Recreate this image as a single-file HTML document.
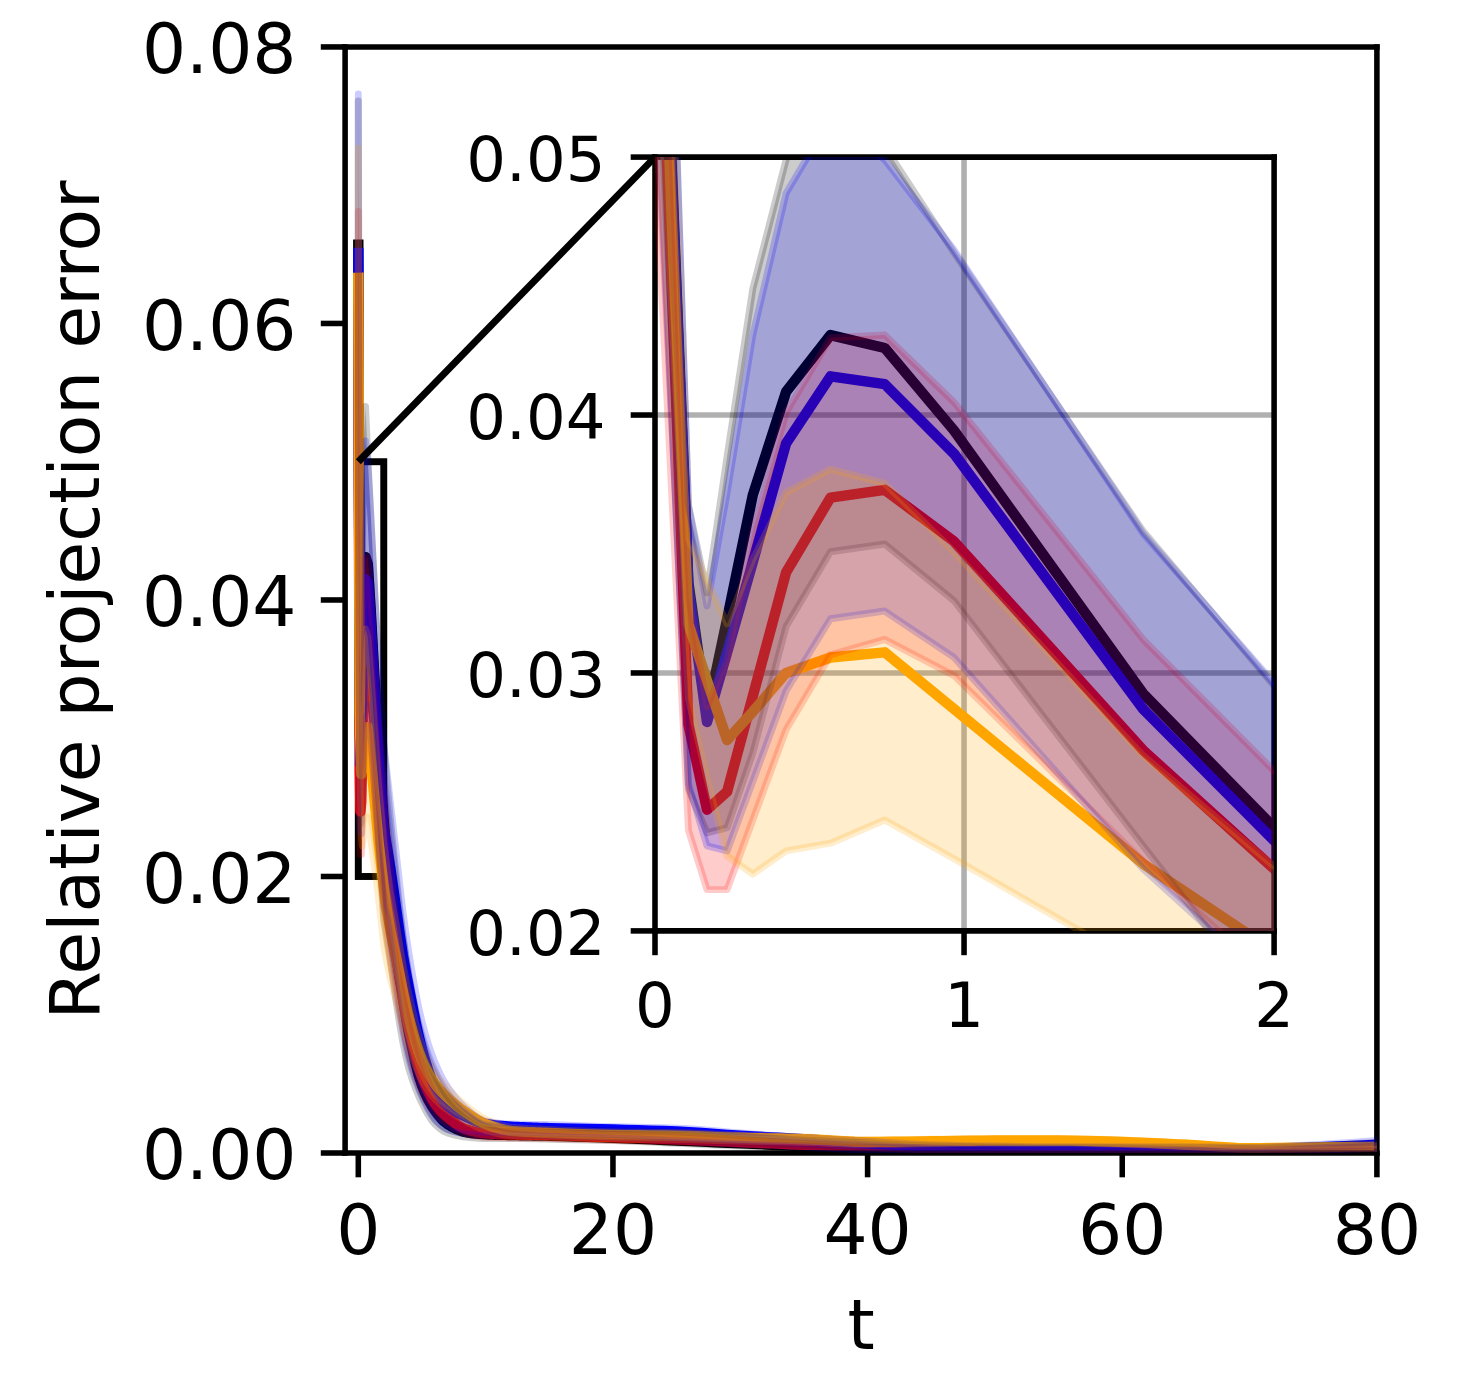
<!DOCTYPE html>
<html><head><meta charset="utf-8"><title>Relative projection error</title>
<style>html,body{margin:0;padding:0;background:#fff;}svg{display:block;}</style>
</head><body>
<svg width="1480" height="1380" viewBox="0 0 1480 1380">
<defs><clipPath id="cm"><rect x="345.10" y="46.95" width="1031.80" height="1106.05"/></clipPath>
<clipPath id="ci"><rect x="655.00" y="157.10" width="619.10" height="773.80"/></clipPath></defs>
<rect x="0" y="0" width="1480" height="1380" fill="#ffffff"/>
<rect x="358.30" y="461.72" width="25.46" height="414.77" fill="none" stroke="#000" stroke-width="6.94" stroke-linejoin="miter"/>
<polyline clip-path="url(#cm)" points="358.30,244.66 359.68,689.84 360.44,760.35 361.27,709.20 362.32,642.83 363.69,587.53 365.52,557.12 367.75,564.03 370.60,608.27 378.38,749.29 383.76,821.18 386.95,862.00 390.13,897.23 393.31,926.63 396.50,952.53 399.68,976.56 402.86,998.15 406.05,1017.35 409.23,1034.10 412.41,1049.09 415.60,1063.11 418.78,1075.41 421.96,1085.25 425.15,1093.02 428.33,1099.66 431.51,1105.32 434.70,1110.14 437.88,1114.42 441.06,1118.26 444.24,1121.50 447.43,1123.97 450.61,1125.92 453.79,1127.68 456.98,1129.22 460.16,1130.52 463.34,1131.55 466.53,1132.26 469.71,1132.78 472.89,1133.23 476.08,1133.61 479.26,1133.92 482.44,1134.16 485.62,1134.34 488.81,1134.47 491.99,1134.58 495.17,1134.67 498.36,1134.75 501.54,1134.83 504.72,1134.89 507.91,1134.96 511.09,1135.03 514.27,1135.09 517.46,1135.16 520.64,1135.21 523.82,1135.27 527.01,1135.32 530.19,1135.37 533.37,1135.42 536.56,1135.47 539.74,1135.53 542.92,1135.59 546.10,1135.65 549.29,1135.72 562.02,1136.04 574.75,1136.43 587.49,1136.86 600.22,1137.32 612.95,1137.79 625.68,1138.29 638.41,1138.84 651.15,1139.41 663.88,1139.99 676.61,1140.56 689.35,1141.11 702.08,1141.66 714.81,1142.22 727.54,1142.77 740.28,1143.32 753.01,1143.88 765.74,1144.43 778.47,1144.98 791.21,1145.53 803.94,1146.09 816.67,1146.69 829.40,1147.35 842.13,1147.99 854.87,1148.51 867.60,1148.85 880.33,1149.04 893.07,1149.19 905.80,1149.31 918.53,1149.42 931.26,1149.54 944.00,1149.70 956.73,1149.89 969.46,1150.06 982.19,1150.19 994.93,1150.23 1007.66,1150.23 1020.39,1150.23 1033.12,1150.23 1045.86,1150.23 1058.59,1150.23 1071.32,1150.23 1084.05,1150.23 1096.79,1150.23 1109.52,1150.23 1122.25,1150.23 1134.98,1150.23 1147.72,1150.23 1160.45,1150.23 1173.18,1150.23 1185.91,1150.23 1198.65,1150.23 1211.38,1150.23 1224.11,1150.23 1236.84,1150.23 1249.58,1150.23 1262.31,1150.14 1275.04,1149.88 1287.77,1149.54 1300.51,1149.17 1313.24,1148.85 1325.97,1148.58 1338.70,1148.30 1351.44,1148.02 1364.17,1147.75 1376.90,1147.47" fill="none" stroke="#000000" stroke-width="10.42" stroke-linejoin="round" stroke-linecap="square"/>
<polyline clip-path="url(#cm)" points="358.30,295.81 359.68,765.88 360.44,811.51 361.27,801.83 362.32,750.67 363.69,684.31 365.52,644.22 367.75,640.07 370.60,667.72 378.38,779.71 383.76,843.31 386.95,876.94 390.13,906.90 393.31,933.22 396.50,956.68 399.68,977.74 402.86,996.77 406.05,1014.39 409.23,1029.95 412.41,1043.61 415.60,1056.25 418.78,1067.50 421.96,1076.96 425.15,1084.95 428.33,1092.04 431.51,1098.16 434.70,1103.23 437.88,1107.44 441.06,1111.09 444.24,1114.26 447.43,1117.05 450.61,1119.67 453.79,1122.19 456.98,1124.51 460.16,1126.57 463.34,1128.26 466.53,1129.50 469.71,1130.44 472.89,1131.28 476.08,1132.01 479.26,1132.61 482.44,1133.07 485.62,1133.37 488.81,1133.56 491.99,1133.73 495.17,1133.86 498.36,1133.98 501.54,1134.08 504.72,1134.17 507.91,1134.26 511.09,1134.34 514.27,1134.41 517.46,1134.48 520.64,1134.54 523.82,1134.59 527.01,1134.64 530.19,1134.69 533.37,1134.74 536.56,1134.79 539.74,1134.84 542.92,1134.90 546.10,1134.96 549.29,1135.03 562.02,1135.36 574.75,1135.77 587.49,1136.21 600.22,1136.67 612.95,1137.10 625.68,1137.51 638.41,1137.90 651.15,1138.30 663.88,1138.72 676.61,1139.17 689.35,1139.68 702.08,1140.22 714.81,1140.80 727.54,1141.37 740.28,1141.94 753.01,1142.51 765.74,1143.08 778.47,1143.66 791.21,1144.20 803.94,1144.70 816.67,1145.16 829.40,1145.58 842.13,1145.98 854.87,1146.37 867.60,1146.78 880.33,1147.23 893.07,1147.71 905.80,1148.17 918.53,1148.57 931.26,1148.85 944.00,1149.03 956.73,1149.18 969.46,1149.30 982.19,1149.42 994.93,1149.54 1007.66,1149.70 1020.39,1149.89 1033.12,1150.06 1045.86,1150.19 1058.59,1150.23 1071.32,1150.23 1084.05,1150.23 1096.79,1150.23 1109.52,1150.23 1122.25,1150.23 1134.98,1150.23 1147.72,1150.23 1160.45,1150.23 1173.18,1150.23 1185.91,1150.23 1198.65,1150.23 1211.38,1150.23 1224.11,1150.23 1236.84,1150.23 1249.58,1150.23 1262.31,1150.14 1275.04,1149.88 1287.77,1149.54 1300.51,1149.17 1313.24,1148.85 1325.97,1148.58 1338.70,1148.30 1351.44,1148.02 1364.17,1147.75 1376.90,1147.47" fill="none" stroke="#ff0000" stroke-width="10.42" stroke-linejoin="round" stroke-linecap="square"/>
<polyline clip-path="url(#cm)" points="358.30,252.95 359.68,692.61 360.44,764.50 361.27,727.17 362.32,678.78 363.69,615.18 365.52,579.24 367.75,583.38 370.60,620.71 378.38,757.59 383.76,828.10 386.95,846.79 390.13,866.81 393.31,888.56 396.50,911.05 399.68,933.85 402.86,955.29 406.05,973.40 409.23,989.86 412.41,1006.06 415.60,1021.91 418.78,1036.59 421.96,1049.31 425.15,1060.39 428.33,1070.52 431.51,1079.37 434.70,1086.64 437.88,1092.73 441.06,1098.13 444.24,1102.62 447.43,1105.99 450.61,1108.53 453.79,1110.68 456.98,1112.52 460.16,1114.15 463.34,1115.63 466.53,1117.05 469.71,1118.47 472.89,1119.86 476.08,1121.16 479.26,1122.32 482.44,1123.27 485.62,1123.97 488.81,1124.48 491.99,1124.95 495.17,1125.35 498.36,1125.72 501.54,1126.03 504.72,1126.30 507.91,1126.54 511.09,1126.73 514.27,1126.90 517.46,1127.06 520.64,1127.20 523.82,1127.33 527.01,1127.45 530.19,1127.56 533.37,1127.66 536.56,1127.76 539.74,1127.85 542.92,1127.94 546.10,1128.03 549.29,1128.11 562.02,1128.43 574.75,1128.70 587.49,1128.94 600.22,1129.20 612.95,1129.50 625.68,1129.84 638.41,1130.20 651.15,1130.60 663.88,1131.05 676.61,1131.57 689.35,1132.23 702.08,1133.07 714.81,1133.98 727.54,1134.89 740.28,1135.72 753.01,1136.44 765.74,1137.12 778.47,1137.78 791.21,1138.45 803.94,1139.17 816.67,1139.98 829.40,1140.86 842.13,1141.75 854.87,1142.59 867.60,1143.32 880.33,1143.98 893.07,1144.60 905.80,1145.17 918.53,1145.67 931.26,1146.09 944.00,1146.47 956.73,1146.84 969.46,1147.16 982.19,1147.38 994.93,1147.47 1007.66,1147.47 1020.39,1147.47 1033.12,1147.47 1045.86,1147.47 1058.59,1147.47 1071.32,1147.47 1084.05,1147.47 1096.79,1147.47 1109.52,1147.47 1122.25,1147.47 1134.98,1147.52 1147.72,1147.65 1160.45,1147.82 1173.18,1148.00 1185.91,1148.16 1198.65,1148.32 1211.38,1148.50 1224.11,1148.68 1236.84,1148.80 1249.58,1148.85 1262.31,1148.77 1275.04,1148.54 1287.77,1148.22 1300.51,1147.85 1313.24,1147.47 1325.97,1147.06 1338.70,1146.56 1351.44,1146.00 1364.17,1145.38 1376.90,1144.70" fill="none" stroke="#0000ff" stroke-width="10.42" stroke-linejoin="round" stroke-linecap="square"/>
<polyline clip-path="url(#cm)" points="358.30,277.84 359.68,711.96 360.44,742.38 361.27,774.18 362.32,758.97 363.69,738.23 365.52,729.94 367.75,727.17 370.60,757.59 378.38,840.54 383.76,887.55 386.95,909.78 390.13,929.02 393.31,944.73 396.50,959.44 399.68,975.53 402.86,991.24 406.05,1005.75 409.23,1018.89 412.41,1030.74 415.60,1041.90 418.78,1051.93 421.96,1060.37 425.15,1067.44 428.33,1073.69 431.51,1079.16 434.70,1083.87 437.88,1087.93 441.06,1091.48 444.24,1094.69 447.43,1097.70 450.61,1100.58 453.79,1103.32 456.98,1105.92 460.16,1108.38 463.34,1110.71 466.53,1112.91 469.71,1115.04 472.89,1117.14 476.08,1119.14 479.26,1120.98 482.44,1122.61 485.62,1123.97 488.81,1125.15 491.99,1126.28 495.17,1127.34 498.36,1128.32 501.54,1129.18 504.72,1129.91 507.91,1130.48 511.09,1130.88 514.27,1131.16 517.46,1131.41 520.64,1131.64 523.82,1131.83 527.01,1132.01 530.19,1132.17 533.37,1132.31 536.56,1132.45 539.74,1132.57 542.92,1132.70 546.10,1132.82 549.29,1132.95 562.02,1133.47 574.75,1133.96 587.49,1134.40 600.22,1134.76 612.95,1135.03 625.68,1135.20 638.41,1135.32 651.15,1135.42 663.88,1135.55 676.61,1135.72 689.35,1136.01 702.08,1136.44 714.81,1136.92 727.54,1137.40 740.28,1137.79 753.01,1138.09 765.74,1138.34 778.47,1138.58 791.21,1138.85 803.94,1139.17 816.67,1139.70 829.40,1140.41 842.13,1141.14 854.87,1141.71 867.60,1141.94 880.33,1141.89 893.07,1141.76 905.80,1141.59 918.53,1141.41 931.26,1141.25 944.00,1141.09 956.73,1140.91 969.46,1140.73 982.19,1140.61 994.93,1140.56 1007.66,1140.56 1020.39,1140.56 1033.12,1140.56 1045.86,1140.56 1058.59,1140.56 1071.32,1140.64 1084.05,1140.87 1096.79,1141.19 1109.52,1141.56 1122.25,1141.94 1134.98,1142.36 1147.72,1142.88 1160.45,1143.47 1173.18,1144.08 1185.91,1144.70 1198.65,1145.46 1211.38,1146.36 1224.11,1147.24 1236.84,1147.90 1249.58,1148.16 1262.31,1148.11 1275.04,1147.98 1287.77,1147.81 1300.51,1147.63 1313.24,1147.47 1325.97,1147.33 1338.70,1147.19 1351.44,1147.05 1364.17,1146.92 1376.90,1146.78" fill="none" stroke="#ffa500" stroke-width="10.42" stroke-linejoin="round" stroke-linecap="square"/>
<line x1="345.10" y1="46.95" x2="345.10" y2="1153.00" stroke="#000" stroke-width="5.56" stroke-linecap="square"/>
<line x1="1376.90" y1="46.95" x2="1376.90" y2="1153.00" stroke="#000" stroke-width="5.56" stroke-linecap="square"/>
<line x1="345.10" y1="46.95" x2="1376.90" y2="46.95" stroke="#000" stroke-width="5.56" stroke-linecap="square"/>
<line x1="345.10" y1="1153.00" x2="1376.90" y2="1153.00" stroke="#000" stroke-width="5.56" stroke-linecap="square"/>
<polygon clip-path="url(#cm)" points="358.30,100.87 359.68,648.36 360.44,695.37 361.27,622.10 362.32,532.23 363.69,463.10 365.52,406.42 367.75,456.19 370.60,512.87 378.38,662.19 383.76,745.14 386.95,782.30 390.13,816.58 393.31,848.39 396.50,878.38 399.68,907.80 402.86,934.73 406.05,957.73 409.23,977.73 412.41,995.53 415.60,1011.94 418.78,1026.59 421.96,1039.08 425.15,1049.73 428.33,1059.18 431.51,1067.50 434.70,1074.75 437.88,1081.17 441.06,1086.92 444.24,1092.01 447.43,1096.43 450.61,1100.35 453.79,1103.97 456.98,1107.28 460.16,1110.30 463.34,1113.02 466.53,1115.43 469.71,1117.72 472.89,1119.97 476.08,1122.05 479.26,1123.83 482.44,1125.20 485.62,1126.04 488.81,1126.53 491.99,1126.96 495.17,1127.34 498.36,1127.65 501.54,1127.92 504.72,1128.13 507.91,1128.29 511.09,1128.40 514.27,1128.48 517.46,1128.55 520.64,1128.61 523.82,1128.66 527.01,1128.70 530.19,1128.74 533.37,1128.77 536.56,1128.81 539.74,1128.84 542.92,1128.89 546.10,1128.93 549.29,1128.99 562.02,1129.28 574.75,1129.65 587.49,1130.04 600.22,1130.42 612.95,1130.75 625.68,1130.99 638.41,1131.19 651.15,1131.38 663.88,1131.61 676.61,1131.92 689.35,1132.45 702.08,1133.23 714.81,1134.16 727.54,1135.12 740.28,1136.02 753.01,1136.86 765.74,1137.72 778.47,1138.58 791.21,1139.38 803.94,1140.12 816.67,1140.76 829.40,1141.36 842.13,1141.92 854.87,1142.47 867.60,1143.04 880.33,1143.67 893.07,1144.34 905.80,1144.98 918.53,1145.55 931.26,1145.97 944.00,1146.28 956.73,1146.55 969.46,1146.78 982.19,1146.98 994.93,1147.14 1007.66,1147.30 1020.39,1147.46 1033.12,1147.60 1045.86,1147.69 1058.59,1147.73 1071.32,1147.73 1084.05,1147.73 1096.79,1147.73 1109.52,1147.73 1122.25,1147.73 1134.98,1147.73 1147.72,1147.73 1160.45,1147.73 1173.18,1147.73 1185.91,1147.73 1198.65,1147.79 1211.38,1147.94 1224.11,1148.11 1236.84,1148.25 1249.58,1148.32 1262.31,1148.16 1275.04,1147.76 1287.77,1147.20 1300.51,1146.58 1313.24,1145.97 1325.97,1145.38 1338.70,1144.72 1351.44,1144.02 1364.17,1143.26 1376.90,1142.46 1376.90,1150.23 1364.17,1150.51 1351.44,1150.79 1338.70,1151.06 1325.97,1151.34 1313.24,1151.62 1300.51,1151.94 1287.77,1152.30 1275.04,1152.65 1262.31,1152.90 1249.58,1153.00 1236.84,1153.00 1224.11,1153.00 1211.38,1153.00 1198.65,1153.00 1185.91,1153.00 1173.18,1153.00 1160.45,1153.00 1147.72,1153.00 1134.98,1153.00 1122.25,1153.00 1109.52,1153.00 1096.79,1153.00 1084.05,1153.00 1071.32,1153.00 1058.59,1153.00 1045.86,1153.00 1033.12,1153.00 1020.39,1153.00 1007.66,1153.00 994.93,1153.00 982.19,1153.00 969.46,1153.00 956.73,1153.00 944.00,1153.00 931.26,1153.00 918.53,1152.92 905.80,1152.69 893.07,1152.37 880.33,1152.00 867.60,1151.62 854.87,1151.18 842.13,1150.64 829.40,1150.05 816.67,1149.43 803.94,1148.85 791.21,1148.30 778.47,1147.75 765.74,1147.19 753.01,1146.64 740.28,1146.09 727.54,1145.53 714.81,1144.98 702.08,1144.43 689.35,1143.88 676.61,1143.32 663.88,1142.74 651.15,1142.13 638.41,1141.53 625.68,1140.99 612.95,1140.56 600.22,1140.22 587.49,1139.92 574.75,1139.66 562.02,1139.42 549.29,1139.17 546.10,1139.11 542.92,1139.04 539.74,1138.96 536.56,1138.88 533.37,1138.81 530.19,1138.74 527.01,1138.67 523.82,1138.61 520.64,1138.56 517.46,1138.52 514.27,1138.49 511.09,1138.48 507.91,1138.48 504.72,1138.48 501.54,1138.48 498.36,1138.48 495.17,1138.48 491.99,1138.48 488.81,1138.48 485.62,1138.48 482.44,1138.43 479.26,1138.28 476.08,1138.05 472.89,1137.77 469.71,1137.44 466.53,1137.10 463.34,1136.71 460.16,1136.21 456.98,1135.59 453.79,1134.85 450.61,1133.97 447.43,1132.95 444.24,1131.52 441.06,1129.48 437.88,1126.93 434.70,1123.97 431.51,1120.16 428.33,1115.22 425.15,1109.47 421.96,1103.23 418.78,1096.45 415.60,1088.78 412.41,1080.03 409.23,1070.05 406.05,1057.59 402.86,1042.39 399.68,1024.17 396.50,1003.68 393.31,981.56 390.13,959.44 386.95,939.42 383.76,920.73 378.38,830.86 370.60,699.52 367.75,669.10 365.52,673.25 363.69,713.35 362.32,781.09 361.27,821.18 360.44,823.95 359.68,800.45 358.30,392.59" fill="#000000" fill-opacity="0.2" stroke="#000000" stroke-opacity="0.2" stroke-width="6.94" stroke-linejoin="round"/>
<polygon clip-path="url(#cm)" points="358.30,211.47 359.68,696.75 360.44,756.20 361.27,731.32 362.32,662.19 363.69,598.59 365.52,558.50 367.75,557.12 370.60,593.06 378.38,720.26 383.76,790.77 386.95,830.11 390.13,865.16 393.31,895.93 396.50,923.37 399.68,948.00 402.86,970.27 406.05,990.88 409.23,1009.08 412.41,1025.05 415.60,1039.84 418.78,1053.00 421.96,1064.06 425.15,1073.41 428.33,1081.70 431.51,1088.85 434.70,1094.78 437.88,1099.71 441.06,1103.98 444.24,1107.69 447.43,1110.96 450.61,1114.01 453.79,1116.96 456.98,1119.68 460.16,1122.08 463.34,1124.06 466.53,1125.51 469.71,1126.61 472.89,1127.60 476.08,1128.45 479.26,1129.16 482.44,1129.69 485.62,1130.04 488.81,1130.26 491.99,1130.46 495.17,1130.62 498.36,1130.76 501.54,1130.87 504.72,1130.98 507.91,1131.08 511.09,1131.17 514.27,1131.26 517.46,1131.34 520.64,1131.41 523.82,1131.47 527.01,1131.53 530.19,1131.59 533.37,1131.64 536.56,1131.70 539.74,1131.76 542.92,1131.83 546.10,1131.90 549.29,1131.98 562.02,1132.37 574.75,1132.84 587.49,1133.36 600.22,1133.89 612.95,1134.40 625.68,1134.88 638.41,1135.34 651.15,1135.81 663.88,1136.30 676.61,1136.83 689.35,1137.42 702.08,1138.06 714.81,1138.73 727.54,1139.40 740.28,1140.06 753.01,1140.72 765.74,1141.40 778.47,1142.07 791.21,1142.71 803.94,1143.30 816.67,1143.83 829.40,1144.32 842.13,1144.79 854.87,1145.25 867.60,1145.72 880.33,1146.25 893.07,1146.81 905.80,1147.35 918.53,1147.82 931.26,1148.15 944.00,1148.36 956.73,1148.53 969.46,1148.67 982.19,1148.81 994.93,1148.96 1007.66,1149.14 1020.39,1149.36 1033.12,1149.56 1045.86,1149.71 1058.59,1149.77 1071.32,1149.77 1084.05,1149.77 1096.79,1149.77 1109.52,1149.77 1122.25,1149.77 1134.98,1149.77 1147.72,1149.77 1160.45,1149.77 1173.18,1149.77 1185.91,1149.77 1198.65,1149.77 1211.38,1149.77 1224.11,1149.77 1236.84,1149.77 1249.58,1149.77 1262.31,1149.65 1275.04,1149.35 1287.77,1148.95 1300.51,1148.52 1313.24,1148.15 1325.97,1147.83 1338.70,1147.50 1351.44,1147.18 1364.17,1146.86 1376.90,1146.53 1376.90,1148.56 1364.17,1148.78 1351.44,1149.00 1338.70,1149.22 1325.97,1149.44 1313.24,1149.67 1300.51,1149.92 1287.77,1150.22 1275.04,1150.49 1262.31,1150.70 1249.58,1150.78 1236.84,1150.78 1224.11,1150.78 1211.38,1150.78 1198.65,1150.78 1185.91,1150.78 1173.18,1150.78 1160.45,1150.78 1147.72,1150.78 1134.98,1150.78 1122.25,1150.78 1109.52,1150.78 1096.79,1150.78 1084.05,1150.78 1071.32,1150.78 1058.59,1150.78 1045.86,1150.74 1033.12,1150.64 1020.39,1150.50 1007.66,1150.35 994.93,1150.22 982.19,1150.12 969.46,1150.03 956.73,1149.93 944.00,1149.81 931.26,1149.67 918.53,1149.44 905.80,1149.12 893.07,1148.75 880.33,1148.36 867.60,1148.00 854.87,1147.67 842.13,1147.36 829.40,1147.03 816.67,1146.70 803.94,1146.33 791.21,1145.93 778.47,1145.49 765.74,1145.03 753.01,1144.57 740.28,1144.11 727.54,1143.66 714.81,1143.19 702.08,1142.73 689.35,1142.29 676.61,1141.89 663.88,1141.53 651.15,1141.19 638.41,1140.87 625.68,1140.55 612.95,1140.22 600.22,1139.87 587.49,1139.51 574.75,1139.15 562.02,1138.83 549.29,1138.56 546.10,1138.50 542.92,1138.45 539.74,1138.41 536.56,1138.37 533.37,1138.33 530.19,1138.29 527.01,1138.25 523.82,1138.21 520.64,1138.16 517.46,1138.12 514.27,1138.06 511.09,1138.00 507.91,1137.94 504.72,1137.87 501.54,1137.80 498.36,1137.72 495.17,1137.62 491.99,1137.51 488.81,1137.38 485.62,1137.22 482.44,1136.99 479.26,1136.62 476.08,1136.13 472.89,1135.55 469.71,1134.87 466.53,1134.11 463.34,1133.12 460.16,1131.76 456.98,1130.11 453.79,1128.24 450.61,1126.22 447.43,1124.11 444.24,1121.87 441.06,1119.32 437.88,1116.39 434.70,1113.00 431.51,1108.93 428.33,1104.02 425.15,1098.32 421.96,1091.90 418.78,1084.30 415.60,1075.26 412.41,1065.09 409.23,1054.12 406.05,1041.62 402.86,1027.46 399.68,1012.16 396.50,995.24 393.31,976.39 390.13,955.24 386.95,931.16 383.76,904.14 378.38,839.16 370.60,739.61 367.75,720.26 365.52,728.55 363.69,768.65 362.32,817.04 361.27,854.37 360.44,854.37 359.68,822.57 358.30,461.72" fill="#ff0000" fill-opacity="0.2" stroke="#ff0000" stroke-opacity="0.2" stroke-width="6.94" stroke-linejoin="round"/>
<polygon clip-path="url(#cm)" points="358.30,93.96 359.68,648.36 360.44,702.28 361.27,641.45 362.32,557.12 363.69,481.07 365.52,440.98 367.75,463.10 370.60,511.49 378.38,663.57 383.76,743.76 386.95,772.28 390.13,800.45 393.31,828.18 396.50,855.75 399.68,884.17 402.86,911.05 406.05,934.50 409.23,955.29 412.41,974.16 415.60,991.86 418.78,1007.87 421.96,1021.66 425.15,1033.51 428.33,1044.11 431.51,1053.51 434.70,1061.75 437.88,1069.07 441.06,1075.68 444.24,1081.54 447.43,1086.64 450.61,1091.18 453.79,1095.38 456.98,1099.24 460.16,1102.76 463.34,1105.93 466.53,1108.76 469.71,1111.44 472.89,1114.07 476.08,1116.51 479.26,1118.61 482.44,1120.22 485.62,1121.20 488.81,1121.78 491.99,1122.28 495.17,1122.72 498.36,1123.09 501.54,1123.40 504.72,1123.65 507.91,1123.84 511.09,1123.97 514.27,1124.06 517.46,1124.14 520.64,1124.21 523.82,1124.27 527.01,1124.31 530.19,1124.36 533.37,1124.40 536.56,1124.44 539.74,1124.49 542.92,1124.53 546.10,1124.59 549.29,1124.66 562.02,1125.01 574.75,1125.44 587.49,1125.90 600.22,1126.35 612.95,1126.73 625.68,1127.02 638.41,1127.25 651.15,1127.48 663.88,1127.75 676.61,1128.11 689.35,1128.74 702.08,1129.66 714.81,1130.76 727.54,1131.90 740.28,1132.95 753.01,1133.95 765.74,1134.97 778.47,1135.97 791.21,1136.93 803.94,1137.79 816.67,1138.56 829.40,1139.26 842.13,1139.92 854.87,1140.58 867.60,1141.25 880.33,1141.99 893.07,1142.77 905.80,1143.54 918.53,1144.20 931.26,1144.70 944.00,1145.07 956.73,1145.39 969.46,1145.66 982.19,1145.89 994.93,1146.09 1007.66,1146.28 1020.39,1146.46 1033.12,1146.62 1045.86,1146.74 1058.59,1146.78 1071.32,1146.78 1084.05,1146.78 1096.79,1146.78 1109.52,1146.78 1122.25,1146.78 1134.98,1146.78 1147.72,1146.78 1160.45,1146.78 1173.18,1146.78 1185.91,1146.78 1198.65,1146.85 1211.38,1147.02 1224.11,1147.23 1236.84,1147.40 1249.58,1147.47 1262.31,1147.29 1275.04,1146.81 1287.77,1146.16 1300.51,1145.42 1313.24,1144.70 1325.97,1144.00 1338.70,1143.23 1351.44,1142.40 1364.17,1141.50 1376.90,1140.56 1376.90,1148.58 1364.17,1148.88 1351.44,1149.18 1338.70,1149.49 1325.97,1149.79 1313.24,1150.10 1300.51,1150.45 1287.77,1150.85 1275.04,1151.23 1262.31,1151.51 1249.58,1151.62 1236.84,1151.62 1224.11,1151.62 1211.38,1151.62 1198.65,1151.62 1185.91,1151.62 1173.18,1151.62 1160.45,1151.62 1147.72,1151.62 1134.98,1151.62 1122.25,1151.62 1109.52,1151.62 1096.79,1151.62 1084.05,1151.62 1071.32,1151.62 1058.59,1151.62 1045.86,1151.62 1033.12,1151.62 1020.39,1151.62 1007.66,1151.62 994.93,1151.62 982.19,1151.62 969.46,1151.62 956.73,1151.62 944.00,1151.62 931.26,1151.62 918.53,1151.52 905.80,1151.28 893.07,1150.92 880.33,1150.51 867.60,1150.10 854.87,1149.62 842.13,1149.03 829.40,1148.37 816.67,1147.70 803.94,1147.05 791.21,1146.45 778.47,1145.84 765.74,1145.23 753.01,1144.62 740.28,1144.01 727.54,1143.41 714.81,1142.80 702.08,1142.19 689.35,1141.58 676.61,1140.97 663.88,1140.33 651.15,1139.66 638.41,1139.00 625.68,1138.41 612.95,1137.93 600.22,1137.56 587.49,1137.23 574.75,1136.95 562.02,1136.68 549.29,1136.41 546.10,1136.34 542.92,1136.26 539.74,1136.17 536.56,1136.09 533.37,1136.01 530.19,1135.93 527.01,1135.85 523.82,1135.79 520.64,1135.73 517.46,1135.69 514.27,1135.66 511.09,1135.65 507.91,1135.65 504.72,1135.65 501.54,1135.65 498.36,1135.65 495.17,1135.65 491.99,1135.65 488.81,1135.65 485.62,1135.65 482.44,1135.59 479.26,1135.42 476.08,1135.17 472.89,1134.86 469.71,1134.51 466.53,1134.13 463.34,1133.70 460.16,1133.15 456.98,1132.47 453.79,1131.66 450.61,1130.70 447.43,1129.57 444.24,1128.00 441.06,1125.76 437.88,1122.96 434.70,1119.71 431.51,1115.52 428.33,1110.10 425.15,1103.79 421.96,1096.94 418.78,1089.50 415.60,1081.09 412.41,1071.50 409.23,1060.56 406.05,1046.90 402.86,1030.26 399.68,1010.30 396.50,987.88 393.31,963.69 390.13,939.54 386.95,917.75 383.76,906.90 378.38,843.31 370.60,729.94 367.75,705.05 365.52,709.20 363.69,747.91 362.32,796.30 361.27,833.63 360.44,830.86 359.68,797.68 358.30,406.42" fill="#0000ff" fill-opacity="0.2" stroke="#0000ff" stroke-opacity="0.2" stroke-width="6.94" stroke-linejoin="round"/>
<polygon clip-path="url(#cm)" points="358.30,147.88 359.68,666.34 360.44,688.46 361.27,711.96 362.32,677.40 363.69,641.45 365.52,629.01 367.75,636.61 370.60,673.25 378.38,782.47 383.76,841.92 386.95,867.97 390.13,890.53 393.31,908.94 396.50,926.17 399.68,945.03 402.86,963.44 406.05,980.44 409.23,995.84 412.41,1009.73 415.60,1022.80 418.78,1034.55 421.96,1044.45 425.15,1052.74 428.33,1060.06 431.51,1066.47 434.70,1071.99 437.88,1076.74 441.06,1080.91 444.24,1084.67 447.43,1088.19 450.61,1091.57 453.79,1094.78 456.98,1097.82 460.16,1100.71 463.34,1103.44 466.53,1106.01 469.71,1108.52 472.89,1110.97 476.08,1113.32 479.26,1115.48 482.44,1117.39 485.62,1118.98 488.81,1120.36 491.99,1121.69 495.17,1122.94 498.36,1124.08 501.54,1125.09 504.72,1125.94 507.91,1126.61 511.09,1127.08 514.27,1127.41 517.46,1127.70 520.64,1127.97 523.82,1128.20 527.01,1128.40 530.19,1128.59 533.37,1128.76 536.56,1128.92 539.74,1129.06 542.92,1129.21 546.10,1129.36 549.29,1129.51 562.02,1130.12 574.75,1130.69 587.49,1131.20 600.22,1131.63 612.95,1131.94 625.68,1132.14 638.41,1132.28 651.15,1132.40 663.88,1132.55 676.61,1132.75 689.35,1133.09 702.08,1133.59 714.81,1134.16 727.54,1134.72 740.28,1135.18 753.01,1135.53 765.74,1135.82 778.47,1136.10 791.21,1136.42 803.94,1136.80 816.67,1137.41 829.40,1138.25 842.13,1139.11 854.87,1139.77 867.60,1140.04 880.33,1139.98 893.07,1139.83 905.80,1139.63 918.53,1139.42 931.26,1139.23 944.00,1139.04 956.73,1138.83 969.46,1138.63 982.19,1138.48 994.93,1138.42 1007.66,1138.42 1020.39,1138.42 1033.12,1138.42 1045.86,1138.42 1058.59,1138.42 1071.32,1138.52 1084.05,1138.78 1096.79,1139.16 1109.52,1139.59 1122.25,1140.04 1134.98,1140.54 1147.72,1141.14 1160.45,1141.83 1173.18,1142.55 1185.91,1143.28 1198.65,1144.16 1211.38,1145.22 1224.11,1146.25 1236.84,1147.02 1249.58,1147.33 1262.31,1147.27 1275.04,1147.12 1287.77,1146.92 1300.51,1146.71 1313.24,1146.52 1325.97,1146.36 1338.70,1146.20 1351.44,1146.03 1364.17,1145.87 1376.90,1145.71 1376.90,1148.14 1364.17,1148.25 1351.44,1148.36 1338.70,1148.46 1325.97,1148.57 1313.24,1148.68 1300.51,1148.80 1287.77,1148.95 1275.04,1149.08 1262.31,1149.18 1249.58,1149.22 1236.84,1149.02 1224.11,1148.50 1211.38,1147.82 1198.65,1147.11 1185.91,1146.52 1173.18,1146.03 1160.45,1145.55 1147.72,1145.10 1134.98,1144.69 1122.25,1144.36 1109.52,1144.06 1096.79,1143.77 1084.05,1143.52 1071.32,1143.35 1058.59,1143.28 1045.86,1143.28 1033.12,1143.28 1020.39,1143.28 1007.66,1143.28 994.93,1143.28 982.19,1143.32 969.46,1143.42 956.73,1143.55 944.00,1143.69 931.26,1143.82 918.53,1143.94 905.80,1144.09 893.07,1144.22 880.33,1144.32 867.60,1144.36 854.87,1144.18 842.13,1143.74 829.40,1143.17 816.67,1142.61 803.94,1142.20 791.21,1141.94 778.47,1141.74 765.74,1141.55 753.01,1141.35 740.28,1141.12 727.54,1140.81 714.81,1140.44 702.08,1140.06 689.35,1139.73 676.61,1139.50 663.88,1139.36 651.15,1139.27 638.41,1139.19 625.68,1139.09 612.95,1138.96 600.22,1138.75 587.49,1138.47 574.75,1138.13 562.02,1137.75 549.29,1137.34 546.10,1137.24 542.92,1137.14 539.74,1137.04 536.56,1136.94 533.37,1136.84 530.19,1136.73 527.01,1136.60 523.82,1136.46 520.64,1136.31 517.46,1136.14 514.27,1135.94 511.09,1135.72 507.91,1135.41 504.72,1134.96 501.54,1134.39 498.36,1133.72 495.17,1132.96 491.99,1132.13 488.81,1131.24 485.62,1130.32 482.44,1129.26 479.26,1127.99 476.08,1126.55 472.89,1124.98 469.71,1123.34 466.53,1121.68 463.34,1119.96 460.16,1118.14 456.98,1116.22 453.79,1114.19 450.61,1112.05 447.43,1109.79 444.24,1107.45 441.06,1104.94 437.88,1102.16 434.70,1098.99 431.51,1095.31 428.33,1091.04 425.15,1086.16 421.96,1080.63 418.78,1074.04 415.60,1066.20 412.41,1057.48 409.23,1048.23 406.05,1037.96 402.86,1026.63 399.68,1014.35 396.50,1001.78 393.31,990.29 390.13,978.02 386.95,962.98 383.76,945.62 378.38,895.84 370.60,837.78 367.75,817.04 365.52,829.48 363.69,833.63 362.32,846.07 361.27,836.39 360.44,794.92 359.68,752.06 358.30,406.42" fill="#ffa500" fill-opacity="0.2" stroke="#ffa500" stroke-opacity="0.2" stroke-width="6.94" stroke-linejoin="round"/>
<line x1="320.79" y1="1153.00" x2="345.10" y2="1153.00" stroke="#000" stroke-width="5.56"/>
<text x="296.5" y="1179.05" text-anchor="end" style="font-family:'DejaVu Sans',sans-serif;font-size:69.44px">0.00</text>
<line x1="320.79" y1="876.49" x2="345.10" y2="876.49" stroke="#000" stroke-width="5.56"/>
<text x="296.5" y="902.54" text-anchor="end" style="font-family:'DejaVu Sans',sans-serif;font-size:69.44px">0.02</text>
<line x1="320.79" y1="599.98" x2="345.10" y2="599.98" stroke="#000" stroke-width="5.56"/>
<text x="296.5" y="626.02" text-anchor="end" style="font-family:'DejaVu Sans',sans-serif;font-size:69.44px">0.04</text>
<line x1="320.79" y1="323.46" x2="345.10" y2="323.46" stroke="#000" stroke-width="5.56"/>
<text x="296.5" y="349.51" text-anchor="end" style="font-family:'DejaVu Sans',sans-serif;font-size:69.44px">0.06</text>
<line x1="320.79" y1="46.95" x2="345.10" y2="46.95" stroke="#000" stroke-width="5.56"/>
<text x="296.5" y="73.00" text-anchor="end" style="font-family:'DejaVu Sans',sans-serif;font-size:69.44px">0.08</text>
<line x1="358.30" y1="1153.00" x2="358.30" y2="1177.31" stroke="#000" stroke-width="5.56"/>
<text x="358.30" y="1253.8" text-anchor="middle" style="font-family:'DejaVu Sans',sans-serif;font-size:69.44px">0</text>
<line x1="612.95" y1="1153.00" x2="612.95" y2="1177.31" stroke="#000" stroke-width="5.56"/>
<text x="612.95" y="1253.8" text-anchor="middle" style="font-family:'DejaVu Sans',sans-serif;font-size:69.44px">20</text>
<line x1="867.60" y1="1153.00" x2="867.60" y2="1177.31" stroke="#000" stroke-width="5.56"/>
<text x="867.60" y="1253.8" text-anchor="middle" style="font-family:'DejaVu Sans',sans-serif;font-size:69.44px">40</text>
<line x1="1122.25" y1="1153.00" x2="1122.25" y2="1177.31" stroke="#000" stroke-width="5.56"/>
<text x="1122.25" y="1253.8" text-anchor="middle" style="font-family:'DejaVu Sans',sans-serif;font-size:69.44px">60</text>
<line x1="1376.90" y1="1153.00" x2="1376.90" y2="1177.31" stroke="#000" stroke-width="5.56"/>
<text x="1376.90" y="1253.8" text-anchor="middle" style="font-family:'DejaVu Sans',sans-serif;font-size:69.44px">80</text>
<text x="861" y="1348.5" text-anchor="middle" style="font-family:'DejaVu Sans',sans-serif;font-size:69.44px">t</text>
<text transform="translate(99.0,600) rotate(-90)" x="0" y="0" text-anchor="middle" style="font-family:'DejaVu Sans',sans-serif;font-size:69.44px">Relative projection error</text>
<rect x="655.00" y="157.10" width="619.10" height="773.80" fill="#fff"/>
<line x1="358.30" y1="461.72" x2="655.00" y2="157.10" stroke="#000" stroke-width="6.94"/>
<line clip-path="url(#ci)" x1="655.00" y1="672.97" x2="1274.10" y2="672.97" stroke="#b0b0b0" stroke-width="5.56"/>
<line clip-path="url(#ci)" x1="655.00" y1="415.03" x2="1274.10" y2="415.03" stroke="#b0b0b0" stroke-width="5.56"/>
<line clip-path="url(#ci)" x1="964.05" y1="157.10" x2="964.05" y2="930.90" stroke="#b0b0b0" stroke-width="5.56"/>
<polyline clip-path="url(#ci)" points="655.00,-247.86 688.43,582.69 707.00,714.24 727.13,618.80 752.82,494.99 786.09,391.82 830.51,335.07 884.69,347.97 954.03,430.51 1143.16,693.60 1274.10,827.73 1351.49,903.88" fill="none" stroke="#000000" stroke-width="10.42" stroke-linejoin="round" stroke-linecap="square"/>
<polyline clip-path="url(#ci)" points="655.00,-152.42 688.43,724.55 707.00,809.67 727.13,791.62 752.82,696.18 786.09,572.37 830.51,497.57 884.69,489.83 954.03,541.42 1143.16,750.35 1274.10,869.00 1351.49,931.74" fill="none" stroke="#ff0000" stroke-width="10.42" stroke-linejoin="round" stroke-linecap="square"/>
<polyline clip-path="url(#ci)" points="655.00,-232.38 688.43,587.85 707.00,721.97 727.13,652.33 752.82,562.06 786.09,443.41 830.51,376.34 884.69,384.08 954.03,453.72 1143.16,709.08 1274.10,840.62 1351.49,875.49" fill="none" stroke="#0000ff" stroke-width="10.42" stroke-linejoin="round" stroke-linecap="square"/>
<polyline clip-path="url(#ci)" points="655.00,-185.95 688.43,623.96 707.00,680.70 727.13,740.03 752.82,711.66 786.09,672.97 830.51,657.49 884.69,652.33 954.03,709.08 1143.16,863.84 1274.10,951.53 1351.49,993.00" fill="none" stroke="#ffa500" stroke-width="10.42" stroke-linejoin="round" stroke-linecap="square"/>
<line x1="655.00" y1="157.10" x2="655.00" y2="930.90" stroke="#000" stroke-width="5.56" stroke-linecap="square"/>
<line x1="1274.10" y1="157.10" x2="1274.10" y2="930.90" stroke="#000" stroke-width="5.56" stroke-linecap="square"/>
<line x1="655.00" y1="157.10" x2="1274.10" y2="157.10" stroke="#000" stroke-width="5.56" stroke-linecap="square"/>
<line x1="655.00" y1="930.90" x2="1274.10" y2="930.90" stroke="#000" stroke-width="5.56" stroke-linecap="square"/>
<polygon clip-path="url(#ci)" points="655.00,-516.11 688.43,505.31 707.00,593.01 727.13,456.30 752.82,288.65 786.09,159.68 830.51,53.93 884.69,146.78 954.03,252.54 1143.16,531.10 1274.10,685.86 1351.49,755.19 1351.49,1048.30 1274.10,1013.44 1143.16,845.78 954.03,600.75 884.69,544.00 830.51,551.74 786.09,626.54 752.82,752.93 727.13,827.73 707.00,832.89 688.43,789.04 655.00,28.13" fill="#000000" fill-opacity="0.2" stroke="#000000" stroke-opacity="0.2" stroke-width="6.94" stroke-linejoin="round"/>
<polygon clip-path="url(#ci)" points="655.00,-309.76 688.43,595.59 707.00,706.50 727.13,660.07 752.82,531.10 786.09,412.45 830.51,337.65 884.69,335.07 954.03,402.14 1143.16,639.44 1274.10,770.98 1351.49,844.37 1351.49,1032.91 1274.10,982.49 1143.16,861.26 954.03,675.55 884.69,639.44 830.51,654.91 786.09,729.71 752.82,819.99 727.13,889.63 707.00,889.63 688.43,830.31 655.00,157.10" fill="#ff0000" fill-opacity="0.2" stroke="#ff0000" stroke-opacity="0.2" stroke-width="6.94" stroke-linejoin="round"/>
<polygon clip-path="url(#ci)" points="655.00,-529.00 688.43,505.31 707.00,605.90 727.13,492.41 752.82,335.07 786.09,193.21 830.51,118.41 884.69,159.68 954.03,249.96 1143.16,533.68 1274.10,683.28 1351.49,736.48 1351.49,1007.89 1274.10,987.65 1143.16,869.00 954.03,657.49 884.69,611.06 830.51,618.80 786.09,691.02 752.82,781.30 727.13,850.94 707.00,845.78 688.43,783.88 655.00,53.93" fill="#0000ff" fill-opacity="0.2" stroke="#0000ff" stroke-opacity="0.2" stroke-width="6.94" stroke-linejoin="round"/>
<polygon clip-path="url(#ci)" points="655.00,-428.41 688.43,538.84 707.00,580.11 727.13,623.96 752.82,559.48 786.09,492.41 830.51,469.20 884.69,483.39 954.03,551.74 1143.16,755.51 1274.10,866.42 1351.49,915.01 1351.49,1092.26 1274.10,1059.87 1143.16,967.01 954.03,858.68 884.69,819.99 830.51,843.20 786.09,850.94 752.82,874.15 727.13,856.10 707.00,778.72 688.43,698.76 655.00,53.93" fill="#ffa500" fill-opacity="0.2" stroke="#ffa500" stroke-opacity="0.2" stroke-width="6.94" stroke-linejoin="round"/>
<line x1="630.69" y1="930.90" x2="655.00" y2="930.90" stroke="#000" stroke-width="5.56"/>
<text x="605.5" y="955.20" text-anchor="end" style="font-family:'DejaVu Sans',sans-serif;font-size:62.50px">0.02</text>
<line x1="630.69" y1="672.97" x2="655.00" y2="672.97" stroke="#000" stroke-width="5.56"/>
<text x="605.5" y="697.27" text-anchor="end" style="font-family:'DejaVu Sans',sans-serif;font-size:62.50px">0.03</text>
<line x1="630.69" y1="415.03" x2="655.00" y2="415.03" stroke="#000" stroke-width="5.56"/>
<text x="605.5" y="439.33" text-anchor="end" style="font-family:'DejaVu Sans',sans-serif;font-size:62.50px">0.04</text>
<line x1="630.69" y1="157.10" x2="655.00" y2="157.10" stroke="#000" stroke-width="5.56"/>
<text x="605.5" y="181.40" text-anchor="end" style="font-family:'DejaVu Sans',sans-serif;font-size:62.50px">0.05</text>
<line x1="655.00" y1="930.90" x2="655.00" y2="955.21" stroke="#000" stroke-width="5.56"/>
<text x="655.00" y="1026.5" text-anchor="middle" style="font-family:'DejaVu Sans',sans-serif;font-size:62.50px">0</text>
<line x1="964.05" y1="930.90" x2="964.05" y2="955.21" stroke="#000" stroke-width="5.56"/>
<text x="964.05" y="1026.5" text-anchor="middle" style="font-family:'DejaVu Sans',sans-serif;font-size:62.50px">1</text>
<line x1="1274.10" y1="930.90" x2="1274.10" y2="955.21" stroke="#000" stroke-width="5.56"/>
<text x="1274.10" y="1026.5" text-anchor="middle" style="font-family:'DejaVu Sans',sans-serif;font-size:62.50px">2</text>
</svg>
</body></html>
